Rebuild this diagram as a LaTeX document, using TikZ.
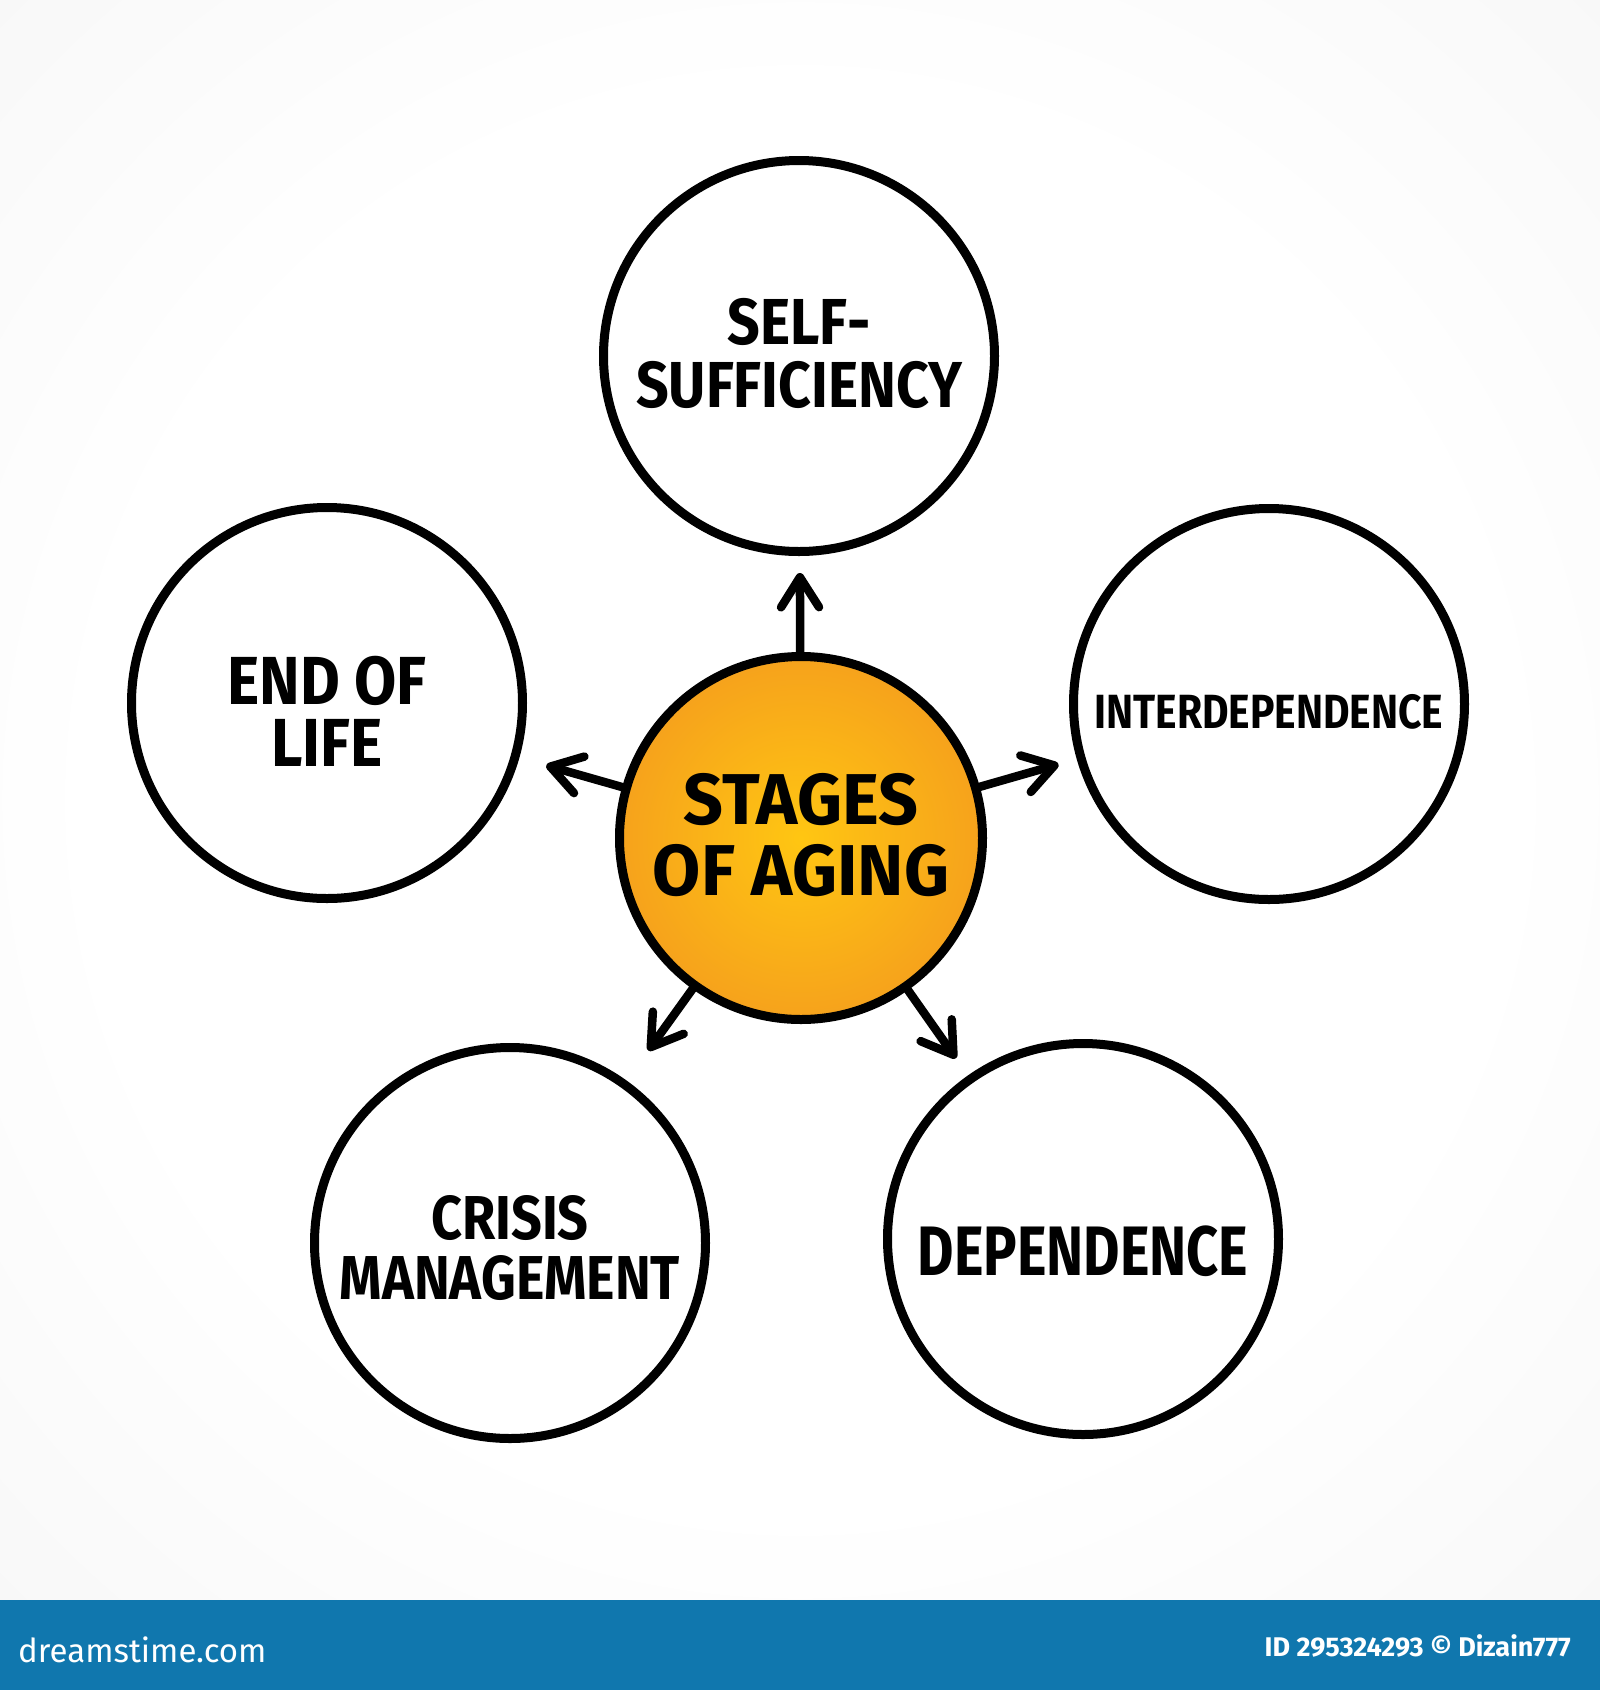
\documentclass[tikz,border=0pt]{standalone}
\usepackage{fontspec}
\usepackage{graphicx}
\newfontfamily\hand{Fira Sans}
\newfontfamily\barfont{Fira Sans}
\usetikzlibrary{arrows.meta}
\pgfdeclareradialshading{bgshade}{\pgfpoint{0bp}{0bp}}{color(0bp)=(white); color(22bp)=(white); color(72bp)=(black!10)}
\definecolor{barblue}{RGB}{16,119,174}
\definecolor{orin}{RGB}{255,198,18}
\definecolor{orout}{RGB}{246,162,28}
\newcommand{\lbl}[4]{\scalebox{#1}[1]{\fontsize{#2}{#3}\selectfont\hand\bfseries\begin{tabular}{@{}c@{}}#4\end{tabular}}}
\begin{document}
\begin{tikzpicture}[x=1pt,y=-1pt,
  stage/.style={circle, draw=black, line width=9pt, minimum size=391pt, inner sep=0pt, outer sep=4.5pt},
  hub/.style={circle, draw=black, line width=9pt, inner color=orin, outer color=orout, minimum size=363pt, inner sep=0pt, outer sep=4.5pt},
  txt/.style={inner sep=0pt, text=black},
  link/.style={line width=8.5pt, line cap=round, -{Straight Barb[length=30pt,width=38pt,round]}}]
\useasboundingbox (0,0) rectangle (1600,1690);
\shade[shading=bgshade] (0,0) rectangle (1600,1600);
\fill[barblue] (0,1600) rectangle (1600,1690);

\node[hub, label={[txt, yshift=-6pt]center:{\lbl{0.97}{72}{66}{STAGES\\OF AGING}}}] (hub) at (801,838) {};
\node[stage, label={[txt, yshift=-5pt]center:{\lbl{0.88}{65}{56}{SELF-\\SUFFICIENCY}}}] (self) at (799,356) {};
\node[stage, label={[txt, yshift=-16pt]center:{\lbl{0.9}{68}{51}{END OF\\LIFE}}}] (end) at (327,703) {};
\node[stage, label={[txt, yshift=-15pt]center:{\lbl{0.85}{48}{48}{INTERDEPENDENCE}}}] (inter) at (1269,704) {};
\node[stage, label={[txt, yshift=-12pt]center:{\lbl{0.87}{62}{53}{CRISIS\\MANAGEMENT}}}] (crisis) at (510,1243) {};
\node[stage, label={[txt, yshift=-22pt]center:{\lbl{0.8}{70}{70}{DEPENDENCE}}}] (dep) at (1083,1239) {};

\draw[link, shorten >=17pt] (hub) -- (self);
\draw[link, shorten >=28pt] (hub) -- (end);
\draw[link, shorten >=19pt] (hub) -- (inter);
\draw[link, shorten >=37pt] (hub) -- (crisis);
\draw[link, shorten >=21pt] (hub) -- (dep);

\node[anchor=west, text=white, inner sep=0pt, font=\barfont\fontsize{33}{33}\selectfont] (brand) at (18,1650) {dreamstime.com};
\node[anchor=east, text=white, inner sep=0pt, font=\barfont\bfseries\fontsize{27}{27}\selectfont] (credit) at (1571,1646) {ID 295324293 © Dizain777};
\end{tikzpicture}
\end{document}
